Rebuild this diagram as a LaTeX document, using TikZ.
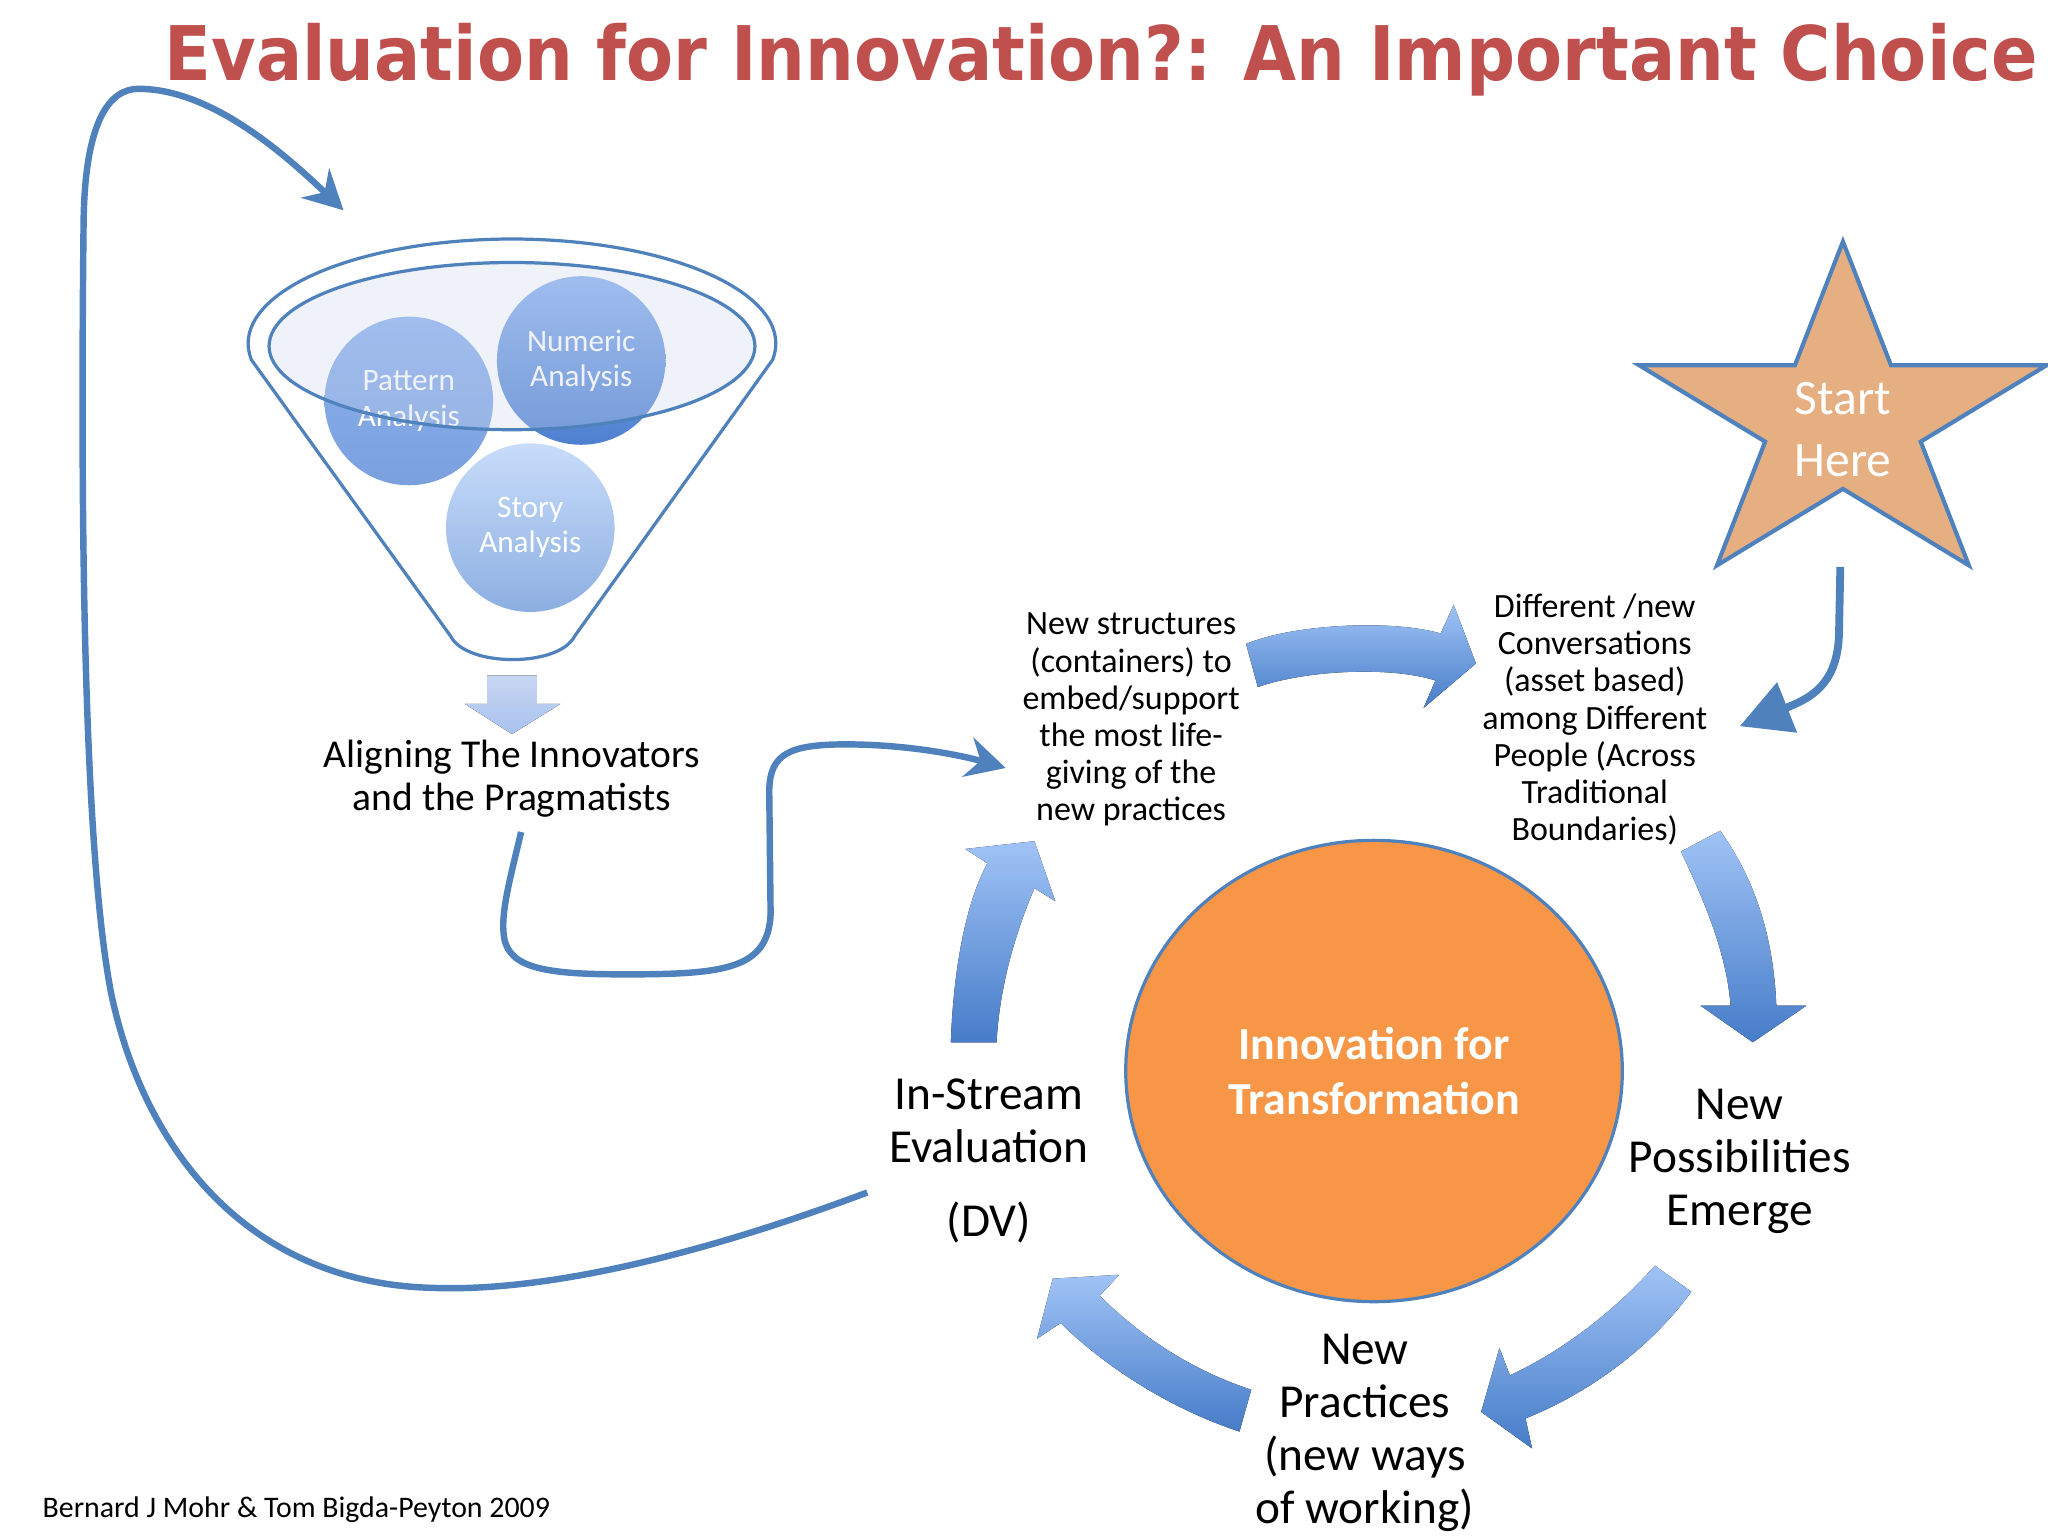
\documentclass[tikz,border=0pt]{standalone}
\usepackage{fontspec}
\setmainfont{Carlito}
\newfontfamily\headfont{DejaVu Sans}
\usetikzlibrary{arrows.meta,shapes.geometric}

\definecolor{lineblue}{RGB}{79,129,189}
\definecolor{titlered}{RGB}{192,80,77}
\definecolor{coreorange}{RGB}{247,150,70}
\definecolor{startan}{RGB}{230,175,130}
\definecolor{arrowtop}{RGB}{160,195,246}
\definecolor{arrowbot}{RGB}{70,124,200}
\definecolor{rimfill}{RGB}{205,215,235}

\tikzset{
	bigtext/.style={align=center, inner sep=0pt, font=\fontsize{10.3}{11.5}\selectfont},
	midtext/.style={align=center, inner sep=0pt, font=\fontsize{8.6}{9.4}\selectfont},
	smalltext/.style={align=center, inner sep=0pt, font=\fontsize{7.4}{8.1}\selectfont},
	ball/.style={circle, minimum size=1.29cm, inner sep=0pt, align=center, text=white, font=\fontsize{6.8}{7.7}\selectfont},
	core/.style={ellipse, minimum width=3.8cm, minimum height=3.53cm, fill=coreorange, draw=lineblue, line width=0.7pt, text=white, align=center, font=\bfseries\fontsize{10}{12}\selectfont},
	flow/.style={draw=lineblue, line width=1.4pt, -{Stealth[length=3mm, width=3.1mm, inset=1mm]}},
	startflow/.style={draw=lineblue, line width=1.7pt, -{Triangle[length=3.9mm, width=4mm]}},
	blockarrow/.style={top color=arrowtop, bottom color=arrowbot},
}

\begin{document}
\begin{tikzpicture}[x=0.01cm, y=-0.01cm]
			\fill[white] (0,0) rectangle (1568,1176);
			\useasboundingbox (0,0) rectangle (1568,1176);

			\node[anchor=base, inner sep=0pt, text=titlered, font=\headfont\bfseries\fontsize{16.4}{18}\selectfont] (title) at (843,62) {\scalebox{0.91}[1]{Evaluation for Innovation?: An Important Choice}};

			% funnel
			\draw[lineblue, line width=0.7pt] (392,263) ++(171:202 and 80) arc[start angle=171, end angle=369, x radius=202, y radius=80] -- (440,487) .. controls (428,511) and (357,511) .. (345,487) -- cycle;
			\node[ball, top color={rgb,255:red,142;green,178;blue,240}, bottom color={rgb,255:red,122;green,160;blue,222}] (pattern) at (313,307) {Pattern\\Analysis};
			\node[ball, top color={rgb,255:red,140;green,178;blue,240}, bottom color={rgb,255:red,78;green,128;blue,208}] (numeric) at (445,276) {Numeric\\Analysis};
			\node[ball, top color={rgb,255:red,200;green,220;blue,250}, bottom color={rgb,255:red,140;green,175;blue,225}] (story) at (406,404) {Story\\Analysis};
			\draw[lineblue, line width=0.7pt, fill=rimfill, fill opacity=0.3] (392,265) ellipse [x radius=186, y radius=64];
			\fill[top color={rgb,255:red,200;green,214;blue,242}, bottom color={rgb,255:red,168;green,194;blue,238}] (373,517) -- (411,517) -- (411,539) -- (429,539) -- (392,562) -- (356,539) -- (373,539) -- cycle;

			\node[midtext] (align) at (392,596) {Aligning The Innovators\\and the Pragmatists};
			\node[smalltext] (struct) at (866,551) {New structures\\(containers) to\\embed/support\\the most life-\\giving of the\\new practices};
			\node[smalltext] (conv) at (1221,551) {Different /new\\Conversations\\(asset based)\\among Different\\People (Across\\Traditional\\Boundaries)};
			\node[bigtext] (stream) at (757,889) {In-Stream\\Evaluation\\[4.7pt](DV)};
			\node[bigtext] (possib) at (1332,889) {New\\Possibilities\\Emerge};
			\node[bigtext] (practice) at (1045,1097) {New\\Practices\\(new ways\\of working)};
			\node[core] (core) at (1052,820) {Innovation for\\Transformation};

			% cycle arrows
			\fill[blockarrow] (954,493) .. controls (990,478) and (1065,474) .. (1103,485) -- (1113,463) -- (1130,508) -- (1090,542) -- (1099,521) .. controls (1065,510) and (1000,513) .. (963,526) -- cycle;
			\fill[blockarrow] (1317,636) .. controls (1345,675) and (1358,720) .. (1360,770) -- (1383,770) -- (1342,798) -- (1302,770) -- (1325,770) .. controls (1322,730) and (1305,690) .. (1287,652) -- cycle;
			\fill[blockarrow] (1295,989) .. controls (1265,1030) and (1220,1065) .. (1168,1086) -- (1173,1109) -- (1134,1081) -- (1148,1032) -- (1156,1053) .. controls (1195,1035) and (1235,1005) .. (1267,969) -- cycle;
			\fill[blockarrow] (958,1064) .. controls (915,1050) and (875,1025) .. (842,992) -- (857,976) -- (806,979) -- (794,1025) -- (812,1013) .. controls (850,1050) and (900,1080) .. (949,1096) -- cycle;
			\fill[blockarrow] (728,798) .. controls (730,740) and (740,690) .. (756,661) -- (739,650) -- (792,644) -- (808,690) -- (792,680) .. controls (775,720) and (765,760) .. (763,798) -- cycle;

			% star
			\draw[lineblue, line width=0.9pt, fill=startan, shift={(1411,322)}] (-90:164 and 137)
				\foreach \a in {-90,-18,54,126,198}{ -- ({\a+36}:62.6 and 52.3) -- ({\a+72}:164 and 137) } -- cycle;
			\node[font=\fontsize{10.8}{13.4}\selectfont, text=white, align=center] (start) at (1411,329) {Start\\Here};

			% connectors
			\coordinate (loopstart) at (664,913);
			\coordinate (loopend) at (263,161);
			\draw[flow] (loopstart) .. controls (560,952) and (430,990) .. (330,986) .. controls (190,982) and (110,880) .. (85,760) .. controls (62,640) and (62,350) .. (64,170) .. controls (65,90) and (85,68) .. (106,68) .. controls (160,68) and (215,115) .. (loopend);
			\coordinate (alignout) at (399,637);
			\coordinate (structin) at (770,588);
			\draw[flow] (alignout) .. controls (390,675) and (383,700) .. (386,718) .. controls (390,742) and (420,746) .. (479,746) .. controls (555,746) and (588,742) .. (590,700) -- (589,610) .. controls (588,580) and (600,571) .. (640,570) .. controls (690,569) and (735,578) .. (structin);
			\coordinate (starout) at (1409,434);
			\coordinate (convin) at (1332,556);
			\draw[startflow] (starout) -- (1408,485) .. controls (1407,525) and (1385,535) .. (convin);

			\node[anchor=base west, inner sep=0pt, font=\fontsize{6.5}{7.5}\selectfont] (credit) at (32,1162) {Bernard J Mohr \& Tom Bigda-Peyton 2009};
		\end{tikzpicture}
\end{document}
